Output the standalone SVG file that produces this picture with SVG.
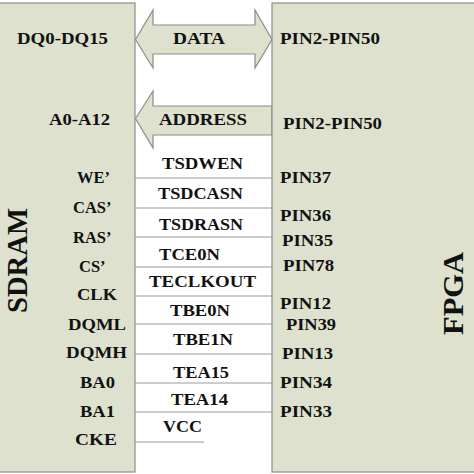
<svg xmlns="http://www.w3.org/2000/svg" width="474" height="474" viewBox="0 0 474 474">
<style>
.box{fill:#dee1ce;stroke:#8c8c8c;stroke-width:1.2}
.arrow{fill:#dee1ce;stroke:#8c8c8c;stroke-width:1.2;stroke-linejoin:miter}
.ln{stroke:#9a9a9a;stroke-width:1.2;fill:none}
text{font-family:"Liberation Serif","Times New Roman",serif;font-weight:bold;font-size:16.5px;fill:#111}
.big{font-size:29px}
</style>
<rect width="474" height="474" fill="#ffffff"/>
<g id="sdram">
<rect class="box" x="-2" y="3" width="137" height="469"/>
<text class="big" transform="translate(27,313) rotate(-90)" textLength="105" lengthAdjust="spacingAndGlyphs">SDRAM</text>
<text x="17" y="44" textLength="91" lengthAdjust="spacingAndGlyphs">DQ0-DQ15</text>
<text x="49" y="125" textLength="61" lengthAdjust="spacingAndGlyphs">A0-A12</text>
<text x="77" y="183">WE’</text>
<text x="73" y="213">CAS’</text>
<text x="73" y="243">RAS’</text>
<text x="79" y="272">CS’</text>
<text x="77" y="300" textLength="40" lengthAdjust="spacingAndGlyphs">CLK</text>
<text x="68" y="330" textLength="58" lengthAdjust="spacingAndGlyphs">DQML</text>
<text x="66" y="358" textLength="61" lengthAdjust="spacingAndGlyphs">DQMH</text>
<text x="80" y="388" textLength="35" lengthAdjust="spacingAndGlyphs">BA0</text>
<text x="80" y="417" textLength="35" lengthAdjust="spacingAndGlyphs">BA1</text>
<text x="75" y="445" textLength="42" lengthAdjust="spacingAndGlyphs">CKE</text>
</g>
<g id="connectors">
<path id="data-arrow" class="arrow" d="M135.5,39.5 L153,10 L153,25 L255,25 L255,10 L272,39.5 L255,68 L255,54 L153,54 L153,68 Z"/>
<path id="address-arrow" class="arrow" d="M135.5,118.5 L153,91 L153,106 L272,106 L272,135 L153,135 L153,148 Z"/>
<line class="ln" x1="135" y1="178" x2="272" y2="178"/>
<line class="ln" x1="135" y1="208" x2="272" y2="208"/>
<line class="ln" x1="135" y1="237" x2="272" y2="237"/>
<line class="ln" x1="135" y1="267" x2="272" y2="267"/>
<line class="ln" x1="135" y1="296" x2="272" y2="296"/>
<line class="ln" x1="135" y1="324" x2="272" y2="324"/>
<line class="ln" x1="135" y1="354" x2="272" y2="354"/>
<line class="ln" x1="135" y1="383" x2="272" y2="383"/>
<line class="ln" x1="135" y1="412" x2="272" y2="412"/>
<line class="ln" x1="135" y1="442" x2="204" y2="442"/>
<text x="173" y="44" textLength="52" lengthAdjust="spacingAndGlyphs">DATA</text>
<text x="159" y="125" textLength="88" lengthAdjust="spacingAndGlyphs">ADDRESS</text>
<text x="162" y="169" textLength="81" lengthAdjust="spacingAndGlyphs">TSDWEN</text>
<text x="158" y="199" textLength="85" lengthAdjust="spacingAndGlyphs">TSDCASN</text>
<text x="159" y="230" textLength="84" lengthAdjust="spacingAndGlyphs">TSDRASN</text>
<text x="159" y="260" textLength="61" lengthAdjust="spacingAndGlyphs">TCE0N</text>
<text x="149" y="287" textLength="107" lengthAdjust="spacingAndGlyphs">TECLKOUT</text>
<text x="170" y="316" textLength="60" lengthAdjust="spacingAndGlyphs">TBE0N</text>
<text x="173" y="345" textLength="60" lengthAdjust="spacingAndGlyphs">TBE1N</text>
<text x="173" y="378" textLength="56" lengthAdjust="spacingAndGlyphs">TEA15</text>
<text x="171" y="405" textLength="57" lengthAdjust="spacingAndGlyphs">TEA14</text>
<text x="163" y="432" textLength="39" lengthAdjust="spacingAndGlyphs">VCC</text>
</g>
<g id="fpga">
<rect class="box" x="272" y="3" width="204" height="469"/>
<text class="big" transform="translate(463,335) rotate(-90)" textLength="83" lengthAdjust="spacingAndGlyphs">FPGA</text>
<text x="280" y="44" textLength="100" lengthAdjust="spacingAndGlyphs">PIN2-PIN50</text>
<text x="283" y="129" textLength="99" lengthAdjust="spacingAndGlyphs">PIN2-PIN50</text>
<text x="280" y="183" textLength="51" lengthAdjust="spacingAndGlyphs">PIN37</text>
<text x="280" y="221" textLength="51" lengthAdjust="spacingAndGlyphs">PIN36</text>
<text x="282" y="246" textLength="51" lengthAdjust="spacingAndGlyphs">PIN35</text>
<text x="283" y="271" textLength="51" lengthAdjust="spacingAndGlyphs">PIN78</text>
<text x="280" y="309" textLength="51" lengthAdjust="spacingAndGlyphs">PIN12</text>
<text x="286" y="330" textLength="50" lengthAdjust="spacingAndGlyphs">PIN39</text>
<text x="282" y="359" textLength="51" lengthAdjust="spacingAndGlyphs">PIN13</text>
<text x="280" y="388" textLength="52" lengthAdjust="spacingAndGlyphs">PIN34</text>
<text x="280" y="417" textLength="52" lengthAdjust="spacingAndGlyphs">PIN33</text>
</g>
</svg>
